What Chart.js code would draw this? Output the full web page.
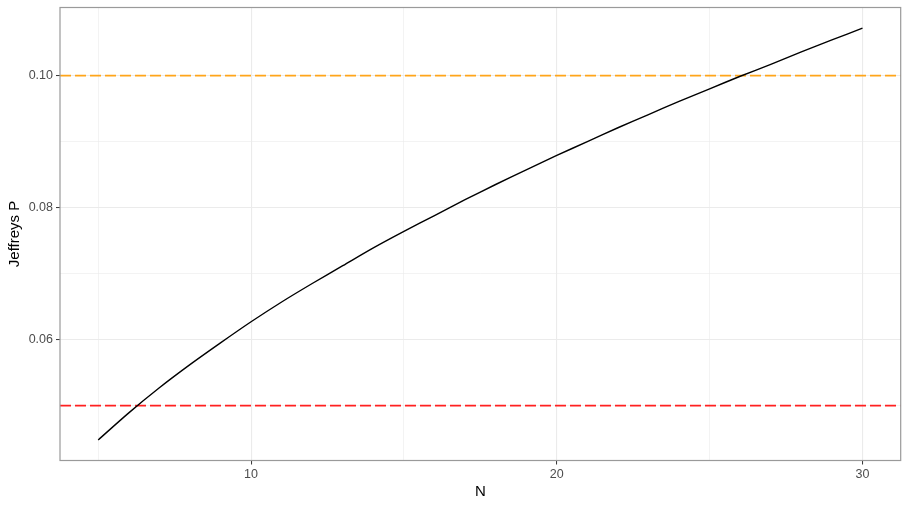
<!DOCTYPE html>
<html lang="en">
<head>
    <meta charset="UTF-8">
    <title>Jeffreys P vs N</title>
    <script src="https://cdn.jsdelivr.net/npm/chart.js"></script>
    <style>
        body { margin: 0; background: #fff; }
        #wrap { width: 909px; height: 508px; }
    </style>
</head>
<body>
    <div id="wrap">
        <canvas id="chartJeffreys" width="909" height="508"></canvas>
    </div>

    <script>
        // Valores
        const nValues = [5, 6, 7, 8, 9, 10, 11, 12, 13, 14, 15, 16, 17, 18, 19, 20,
                         21, 22, 23, 24, 25, 26, 27, 28, 29, 30];
        const jeffreysP = [0.0448, 0.0489, 0.0527, 0.0562, 0.0595, 0.0627, 0.0657, 0.0685,
                           0.0712, 0.0739, 0.0764, 0.0788, 0.0812, 0.0835, 0.0857, 0.0879,
                           0.0900, 0.0921, 0.0941, 0.0961, 0.0980, 0.0999, 0.1017, 0.1036,
                           0.1054, 0.1072];
        const thresholds = [0.05, 0.10];
        const thresholdColors = ['#ff2020', '#ffa51a'];

        // Ejes
        const xLimits = [3.75, 31.25];
        const yLimits = [0.04168, 0.11032];
        const xMajor = [10, 20, 30];
        const xMajorLabels = ['10', '20', '30'];
        const xMinor = [5, 15, 25];
        const yMajor = [0.06, 0.08, 0.10];
        const yMajorLabels = ['0.06', '0.08', '0.10'];
        const yMinor = [0.05, 0.07, 0.09];

        const FONT = '"Liberation Sans", Arial, sans-serif';

        function isMajor(list, v) {
            return list.some(m => Math.abs(m - v) < 1e-9);
        }

        // Borde completo del panel (theme_bw)
        const panelBorder = {
            id: 'panelBorder',
            afterDatasetsDraw(chart) {
                const { ctx, chartArea: a } = chart;
                ctx.save();
                ctx.strokeStyle = '#9a9a9a';
                ctx.lineWidth = 1.2;
                ctx.strokeRect(a.left, a.top, a.right - a.left, a.bottom - a.top);
                ctx.restore();
            }
        };

        const datasets = [{
            label: 'Jeffreys P',
            data: nValues.map((n, i) => ({ x: n, y: jeffreysP[i] })),
            borderColor: '#000000',
            borderWidth: 1.4,
            pointRadius: 0,
            tension: 0.3,
            fill: false,
            order: 0
        }];
        thresholds.forEach((t, i) => {
            datasets.push({
                label: 'umbral ' + t,
                data: [{ x: xLimits[0], y: t }, { x: xLimits[1], y: t }],
                borderColor: thresholdColors[i],
                borderWidth: 1.7,
                borderDash: [11, 4],
                pointRadius: 0,
                fill: false,
                order: 1
            });
        });

        const ctx = document.getElementById('chartJeffreys').getContext('2d');
        new Chart(ctx, {
            type: 'line',
            data: { datasets: datasets },
            options: {
                responsive: false,
                animation: false,
                layout: { padding: { left: 0, top: 7.5, right: 8.3, bottom: 0 } },
                plugins: {
                    legend: { display: false },
                    tooltip: { enabled: false }
                },
                scales: {
                    x: {
                        type: 'linear',
                        min: xLimits[0],
                        max: xLimits[1],
                        afterBuildTicks: s => {
                            s.ticks = xMinor.concat(xMajor).sort((a, b) => a - b).map(v => ({ value: v }));
                        },
                        afterFit: s => {
                            s.height = 47.5;
                            s.paddingLeft = 0;
                            s.paddingRight = 0;
                        },
                        border: { display: false },
                        grid: {
                            color: '#ebebeb',
                            lineWidth: c => isMajor(xMajor, c.tick.value) ? 1.1 : 0.6,
                            tickColor: c => isMajor(xMajor, c.tick.value) ? '#333333' : 'rgba(0,0,0,0)',
                            tickLength: 4,
                            tickWidth: 1
                        },
                        ticks: {
                            autoSkip: false,
                            maxRotation: 0,
                            padding: 3,
                            color: '#4d4d4d',
                            font: { family: FONT, size: 12.5 },
                            callback: v => {
                                const k = xMajor.findIndex(m => Math.abs(m - v) < 1e-9);
                                return k >= 0 ? xMajorLabels[k] : '';
                            }
                        },
                        title: {
                            display: true,
                            text: 'N',
                            color: '#000000',
                            font: { family: FONT, size: 15 },
                            padding: { top: 0, bottom: 7.5 }
                        }
                    },
                    y: {
                        type: 'linear',
                        min: yLimits[0],
                        max: yLimits[1],
                        afterBuildTicks: s => {
                            s.ticks = yMinor.concat(yMajor).sort((a, b) => a - b).map(v => ({ value: v }));
                        },
                        afterFit: s => {
                            s.width = 60;
                            s.paddingTop = 0;
                            s.paddingBottom = 0;
                        },
                        border: { display: false },
                        grid: {
                            color: '#ebebeb',
                            lineWidth: c => isMajor(yMajor, c.tick.value) ? 1.1 : 0.6,
                            tickColor: c => isMajor(yMajor, c.tick.value) ? '#333333' : 'rgba(0,0,0,0)',
                            tickLength: 4,
                            tickWidth: 1
                        },
                        ticks: {
                            autoSkip: false,
                            padding: 3,
                            color: '#4d4d4d',
                            font: { family: FONT, size: 12.5 },
                            callback: v => {
                                const k = yMajor.findIndex(m => Math.abs(m - v) < 1e-9);
                                return k >= 0 ? yMajorLabels[k] : '';
                            }
                        },
                        title: {
                            display: true,
                            text: 'Jeffreys P',
                            color: '#000000',
                            font: { family: FONT, size: 15 },
                            padding: { top: 5.5, bottom: 0 }
                        }
                    }
                }
            },
            plugins: [panelBorder]
        });
    </script>
</body>
</html>
